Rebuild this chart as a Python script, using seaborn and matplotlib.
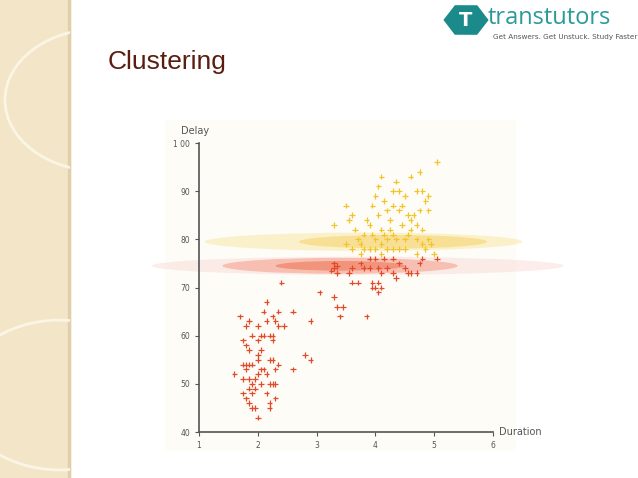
import matplotlib
matplotlib.use("Agg")
import matplotlib.pyplot as plt
import seaborn as sns
import pandas as pd
from matplotlib.patches import Ellipse, Rectangle, Circle, RegularPolygon

red_x = [1.6,1.7,1.75,1.8,1.85,1.8,1.85,1.75,1.8,1.85,1.9,1.8,1.75,1.85,1.9,1.95,1.75,1.8,1.85,1.9,1.95,2.0,1.9,1.95,2.0,2.05,2.0,2.0,2.05,2.0,2.0,2.05,2.1,2.1,2.15,2.2,2.25,2.25,2.2,2.25,2.15,2.2,2.25,2.3,2.15,2.2,2.2,2.3,2.3,2.35,2.35,2.3,2.35,2.45,2.4,2.6,2.6,2.8,2.9,2.9,2.1,2.05,1.9,1.85,2.15,2.25,
         3.05,3.3,3.35,3.45,3.4,3.85,3.6,3.7,3.95,4.0,4.05,4.1,4.05,3.95,
         3.3,3.35,3.3,3.55,3.6,3.75,3.8,3.9,3.9,4.0,4.05,4.1,4.15,4.2,4.3,4.3,4.35,4.4,4.5,4.55,4.6,4.7,4.75,4.8,5.05,3.35,3.25]
red_y = [52,64,59,62,63,58,57,54,54,54,54,53,51,51,50,51,48,47,46,45,45,43,48,49,52,50,55,56,57,59,62,60,60,65,67,60,60,59,55,55,52,50,50,50,48,46,45,47,53,54,62,63,65,62,71,65,53,56,55,63,53,53,60,49,63,64,
         69,68,66,66,64,64,71,71,71,70,69,70,71,70,
         74,73,75,73,74,75,74,74,76,76,74,73,76,74,73,76,72,75,74,73,73,73,75,76,76,74.5,73.5]
yel_x = [3.3,3.5,3.55,3.6,3.65,3.7,3.75,3.8,3.85,3.9,3.95,4.0,4.05,4.1,4.15,4.05,4.1,4.2,4.25,4.3,4.35,4.4,4.45,4.5,4.55,4.6,4.7,4.75,4.8,4.85,4.9,5.05,4.0,4.1,4.2,4.3,4.4,4.5,4.6,4.7,4.8,3.9,3.6,3.5,4.3,4.45,4.6,4.65,4.7,4.8,4.9,4.2,4.1,4.0,3.8,4.5,4.7,4.85,4.95,5.0,3.75,4.35,4.55,4.25,4.15,3.95,4.75,4.9,4.4,4.3]
yel_y = [83,87,84,85,82,80,79,81,84,83,87,89,91,93,88,85,82,86,84,90,92,90,87,89,85,93,90,94,90,88,86,96,80,79,80,81,78,80,82,80,79,78,78,79,78,83,84,85,83,82,80,78,77,78,78,78,77,78,79,77,77,80,81,82,81,81,86,89,86,87]
x_ticks = [1,2,3,4,5,6]
y_ticks = [40,50,60,70,80,90,100]
y_tick_labels = ["40","50","60","70","80","90","1 00"]

df = pd.DataFrame({"Duration": red_x + yel_x, "Delay": red_y + yel_y,
                   "cluster": ["r"]*len(red_x) + ["y"]*len(yel_x)})

fig = plt.figure(figsize=(6.38, 4.78), dpi=100)
fig.patch.set_facecolor("white")
side = Rectangle((0, 0), 70/638, 1, transform=fig.transFigure, color="#f3e6c8", zorder=0)
fig.add_artist(side)
fig.add_artist(Rectangle((68/638, 0), 2/638, 1, transform=fig.transFigure, color="#e0cfa8", zorder=0))
for cx, cy, r in [(100, 100, 95), (60, 395, 100)]:
    c = Circle((cx/638, 1-cy/478), r/638, transform=fig.transFigure, fill=False, ec="#fbf5e6", lw=2, zorder=1)
    fig.add_artist(c)
    c.set_clip_path(Rectangle((0, 0), 70/638, 1, transform=fig.transFigure))
fig.text(108/638, 1-62/478, "Clustering", fontsize=19, color="#5a1e10", va="center", family="Liberation Sans")
fig.add_artist(RegularPolygon((466/638, 1-20/478), 6, radius=0.034, transform=fig.transFigure, color="#1a8a8a", orientation=0.52))
fig.text(466/638, 1-21/478, "T", fontsize=14, color="white", ha="center", va="center", weight="bold")
fig.text(488/638, 1-18/478, "transtutors", fontsize=17, color="#2a9a9a", va="center", family="Open Sans")
fig.text(493/638, 1-37/478, "Get Answers. Get Unstuck. Study Faster", fontsize=5.2, color="#555555", va="center")

fig.add_artist(Rectangle((165/638, 1-450/478), 350/638, 330/478, transform=fig.transFigure, color="#fdfcf7", zorder=0))
ax = fig.add_axes([199/638, 1-432/478, 294/638, 289/478])
ax.set_facecolor("none")
ax.set_xlim(1, 6); ax.set_ylim(40, 100)

for (cx, cy, w, h, c, a) in [(3.8, 79.5, 5.4, 3.8, "#f8e8a0", 0.5), (4.3, 79.5, 3.2, 2.8, "#f5d060", 0.5),
                             (3.7, 74.5, 7.0, 3.8, "#fbe0dc", 0.6), (3.4, 74.5, 4.0, 3.3, "#f5a090", 0.6),
                             (3.4, 74.5, 2.2, 2.0, "#ee7050", 0.55)]:
    ax.add_patch(Ellipse((cx, cy), w, h, color=c, alpha=a, lw=0, clip_on=False))

sns.scatterplot(data=df, x="Duration", y="Delay", hue="cluster", palette={"r": "#e24a2a", "y": "#f2c428"},
                marker="+", s=16, linewidth=0.9, legend=False, ax=ax, zorder=3)
for sp in ["top", "right"]:
    ax.spines[sp].set_visible(False)
for sp in ["left", "bottom"]:
    ax.spines[sp].set_color("#555555"); ax.spines[sp].set_linewidth(1.2)
ax.set_xticks(x_ticks); ax.set_yticks(y_ticks); ax.set_yticklabels(y_tick_labels)
ax.tick_params(labelsize=5.5, colors="#555555", length=3, direction="out")
ax.set_xlabel(""); ax.set_ylabel("")
ax.text(6.1, 40, "Duration", fontsize=7, color="#555555", va="center", clip_on=False)
ax.text(0.7, 102.5, "Delay", fontsize=7, color="#555555", va="center", clip_on=False)
fig.savefig("out.png", dpi=100)
